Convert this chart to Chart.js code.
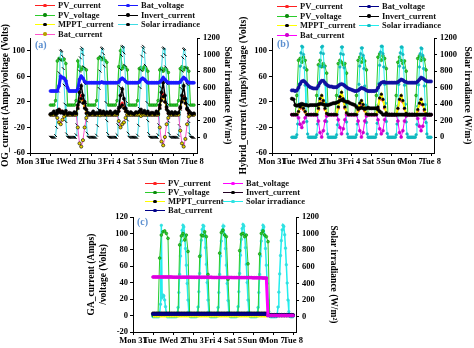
<!DOCTYPE html>
<html><head><meta charset="utf-8">
<script src="https://cdn.jsdelivr.net/npm/chart.js@4.4.1/dist/chart.umd.min.js"></script>
<style>
html,body{margin:0;padding:0;background:#fff;width:474px;height:348px;overflow:hidden;position:relative;}
canvas{position:absolute;}
.lg{position:absolute;font:bold 8.5px "Liberation Serif","Times New Roman",serif;color:#111;white-space:nowrap;line-height:10px;}
.sym{position:absolute;height:0;width:20px;border-top:1px solid;}
.dot{position:absolute;width:3.5px;height:3.5px;border-radius:50%;}
.plab{position:absolute;font:bold 10px "Liberation Serif","Times New Roman",serif;color:#5b8fd0;line-height:12px;}
</style></head><body>
<canvas id="ca" width="237" height="175" style="left:0;top:0"></canvas>
<canvas id="cb" width="237" height="175" style="left:237px;top:0"></canvas>
<canvas id="cc" width="265" height="173" style="left:80px;top:175px"></canvas>
<div class="plab" style="left:35px;top:39px">(a)</div>
<div class="plab" style="left:277px;top:38px">(b)</div>
<div class="plab" style="left:137px;top:216px">(c)</div>
<script>
// ---------- axes / categories ----------
const DAY_LABELS = ["Mon 31","Tue 1","Wed 2","Thu 3","Fri 4","Sat 5","Sun 6","Mon 7","Tue 8"];
const LEFT_TICKS_AB = [-60,-40,-20,0,20,40,60,80,100,120];
const LEFT_TICKS_C = [-20,0,20,40,60,80,100,120];
const RIGHT_TICKS = [0,200,400,600,800,1000,1200];
const START_DAY = 1;            // first sample: Tue 1, 00:00
const STEP_2H = 2/24, STEP_1H = 1/24;

// ---------- (a) OG : 2-hour samples (h0,h2,...,h22 per day), Tue 1 .. Tue 8 ----------
const A_PV_CURRENT = [
0,0,0,0,3,8,6,4,2,0,0,0,
0,0,0,0,12,25,30,22,12,3,0,0,
0,0,0,0,1,2,1,1,0,0,0,0,
0,0,0,0,6,15,18,12,6,0,0,0,
0,0,0,0,1,3,2,1,0,0,0,0,
0,0,0,0,12,25,32,20,10,2,0,0,
0,0,0,0,10,22,28,18,8,2,0,0,
0];
const A_PV_VOLTAGE = [
15,15,15,22,84,88,86,85,87,80,15,15,
15,15,15,22,84,75,70,74,72,70,15,15,
15,15,15,22,88,90,86,89,85,82,15,15,
15,15,15,22,75,100,72,76,74,70,15,15,
15,15,15,22,72,74,70,75,72,68,15,15,
15,15,15,22,70,73,68,72,70,66,15,15,
15,15,15,22,72,75,70,74,73,68,15,15,
15];
const A_MPPT_CURRENT = [
0,0,0,0,2,5,4,3,1,0,0,0,
0,0,0,0,10,20,25,18,10,2,0,0,
0,0,0,0,0,1,0,0,0,0,0,0,
0,0,0,0,5,12,15,10,5,0,0,0,
0,0,0,0,0,1,0,0,0,0,0,0,
0,0,0,0,10,22,28,20,8,2,0,0,
0,0,0,0,10,20,25,18,8,2,0,0,
0];
const A_BAT_CURRENT = [
0,0,0,0,-5,-12,-15,-8,-3,0,0,0,
0,0,0,0,-20,-45,-50,-40,-20,-5,0,0,
0,0,0,0,0,-1,0,0,0,0,0,0,
0,0,0,0,-10,-20,-15,-12,-5,0,0,0,
0,0,0,0,0,-2,0,0,0,0,0,0,
0,0,0,0,-20,-42,-48,-35,-15,-5,0,0,
0,0,0,0,-25,-45,-50,-38,-15,-3,0,0,
0];
const A_BAT_VOLTAGE = [
37,37,37,37,37,45,60,58,57,53,42,37,
37,37,37,37,40,55,60,57,52,50,50,50,
50,50,50,50,50,50,51,50,50,50,50,50,
50,50,50,50,51,55,57,55,52,50,50,50,
50,50,50,50,51,55,57,55,52,50,50,50,
50,50,50,50,51,54,58,55,52,50,50,50,
50,50,50,50,51,55,58,56,52,50,50,50,
50];
const A_INVERT_CURRENT = [
1,2,5,1,6,8,3,5,2,6,1,3,
2,1,4,2,15,35,45,30,20,8,3,1,
2,5,1,3,2,6,2,5,1,4,2,5,
1,3,5,2,10,30,40,25,10,5,2,4,
2,1,4,3,5,8,3,6,2,5,1,3,
3,1,5,2,15,35,50,30,12,5,2,4,
1,4,2,3,12,30,45,25,10,6,3,1,
2];
// hourly solar irradiance (W/m2)
const A_SOLAR = [
0,0,0,0,0,0,20,120,320,560,780,940,1040,1050,980,830,630,400,190,40,0,0,0,0,
0,0,0,0,0,0,30,150,350,600,800,960,1060,1080,1000,850,650,420,200,50,0,0,0,0,
0,0,0,0,0,0,25,140,340,590,800,970,1070,1080,1010,860,660,420,200,45,0,0,0,0,
0,0,0,0,0,0,30,150,360,610,820,990,1090,1100,1020,870,670,430,210,50,0,0,0,0,
0,0,0,0,0,0,25,145,350,600,810,980,1080,1100,1030,870,660,420,200,45,0,0,0,0,
0,0,0,0,0,0,30,150,355,605,815,975,1070,1080,1000,850,650,410,195,45,0,0,0,0,
0,0,0,0,0,0,25,140,340,590,800,960,1060,1070,990,840,640,400,190,40,0,0,0,0,
0];

// ---------- (b) Hybrid ----------
const B_PV_CURRENT = [
0,0,0,0,4,10,12,8,4,0,0,0,
0,0,0,0,8,22,28,20,8,1,0,0,
0,0,0,0,10,25,30,22,10,2,0,0,
0,0,0,0,6,15,20,14,6,1,0,0,
0,0,0,0,10,24,30,22,10,2,0,0,
0,0,0,0,9,22,28,20,9,1,0,0,
0,0,0,0,6,16,22,15,6,1,0,0,
0];
const B_PV_VOLTAGE = [
0,0,0,30,85,88,82,90,85,70,0,0,
0,0,0,30,78,85,75,80,76,65,0,0,
0,0,0,30,80,85,82,78,80,65,0,0,
0,0,0,30,85,90,82,88,84,70,0,0,
0,0,0,30,90,95,85,92,88,72,0,0,
0,0,0,30,82,90,85,80,84,68,0,0,
0,0,0,30,88,92,85,90,86,70,0,0,
0];
const B_MPPT_CURRENT = [
0,0,0,0,5,12,15,10,5,0,0,0,
0,0,0,0,10,25,30,22,10,2,0,0,
0,0,0,0,12,28,35,25,12,3,0,0,
0,0,0,0,8,18,22,16,8,1,0,0,
0,0,0,0,12,26,32,24,12,3,0,0,
0,0,0,0,10,24,30,22,10,2,0,0,
0,0,0,0,8,18,24,16,8,1,0,0,
0];
const B_BAT_CURRENT = [
0,0,0,0,-5,-15,-20,-12,-5,0,0,0,
0,0,0,0,-10,-28,-35,-25,-10,-2,0,0,
0,0,0,0,-8,-20,-30,-22,-8,0,0,0,
0,0,0,0,-10,-25,-35,-28,-10,-2,0,0,
0,0,0,0,-8,-22,-30,-25,-8,0,0,0,
0,0,0,0,-10,-28,-35,-25,-10,-2,0,0,
0,0,0,0,-6,-18,-25,-18,-6,0,0,0,
0];
const B_BAT_VOLTAGE = [
38,38,37,38,42,48,52,53,51,48,45,43,
42,41,41,41,45,50,53,53,50,47,45,44,
44,43,43,43,45,47,48,47,45,43,41,40,
39,38,37,37,38,40,42,41,40,38,37,37,
37,37,37,38,42,47,50,51,51,50,50,50,
50,50,50,50,51,53,55,54,52,51,50,50,
50,50,50,50,52,55,58,57,55,53,52,52,
52];
const B_INVERT_CURRENT = [
25,24,15,14,15,16,17,16,15,15,14,15,
15,15,15,15,16,17,17,16,15,15,15,16,
17,18,18,19,20,22,23,22,21,20,20,18,
17,16,15,12,10,10,11,10,10,10,11,10,
10,10,10,10,8,5,3,0,0,0,0,0,
0,0,0,0,0,0,0,0,0,0,0,0,
0,0,0,0,0,0,0,0,0,0,0,0,
0];
const B_SOLAR = [
0,0,0,0,0,0,30,160,380,640,860,1020,1100,1090,1000,840,630,400,190,40,0,0,0,0,
0,0,0,0,0,0,30,160,380,640,860,1020,1090,1100,1010,850,640,410,190,40,0,0,0,0,
0,0,0,0,0,0,30,150,370,630,850,1010,1090,1090,1000,840,630,400,185,40,0,0,0,0,
0,0,0,0,0,0,30,160,380,640,860,1010,1080,1080,990,830,620,390,180,40,0,0,0,0,
0,0,0,0,0,0,35,170,390,650,870,1030,1100,1100,1010,850,640,410,190,45,0,0,0,0,
0,0,0,0,0,0,30,160,380,640,860,1020,1090,1090,1000,840,630,400,185,40,0,0,0,0,
0,0,0,0,0,0,30,155,375,635,850,1010,1080,1070,990,830,620,395,180,40,0,0,0,0,
0];

// ---------- (c) GA ----------
const C_PV_CURRENT = [
0,0,0,0,0,0,0,0,0,0,0,0,
0,0,0,0,0,0,0,0,0,0,0,0,
0,0,0,0,0,0,0,0,0,0,0,0,
0,0,0,0,0,0,0,0,0,0,0,0,
0,0,0,0,0,0,0,0,0,0,0,0,
0,0,0,0,0,0,0,0,0,0,0,0,
0,0,0,0,0,0,0,0,0,0,0,0,
0];
const C_PV_VOLTAGE = [
0,0,0,0,70,98,102,103,100,94,0,0,
0,0,0,0,86,97,100,92,98,78,0,0,
0,0,0,0,72,98,97,102,96,50,0,0,
0,0,0,0,76,101,104,98,96,44,0,0,
0,0,0,0,79,99,100,96,98,63,0,0,
0,0,0,0,75,100,103,98,96,90,0,0,
0,0,0,0,0,0,0,0,0,0,0,0,
0];
const C_MPPT_CURRENT = [
-1.2,-1.2,-1.2,-1.2,-1.2,-1.2,-1.2,-1.2,-1.2,-1.2,-1.2,-1.2,
-1.2,-1.2,-1.2,-1.2,-1.2,-1.2,-1.2,-1.2,-1.2,-1.2,-1.2,-1.2,
-1.2,-1.2,-1.2,-1.2,-1.2,-1.2,-1.2,-1.2,-1.2,-1.2,-1.2,-1.2,
-1.2,-1.2,-1.2,-1.2,-1.2,-1.2,-1.2,-1.2,-1.2,-1.2,-1.2,-1.2,
-1.2,-1.2,-1.2,-1.2,-1.2,-1.2,-1.2,-1.2,-1.2,-1.2,-1.2,-1.2,
-1.2,-1.2,-1.2,-1.2,-1.2,-1.2,-1.2,-1.2,-1.2,0,0,0,
0,0,0,0,0,0,0,0,0,0,0,0,
0];
const C_BAT_CURRENT = [
1.8,1.8,1.8,1.8,1.8,1.8,1.8,1.8,1.8,1.8,1.8,1.8,
1.8,1.8,1.8,1.8,1.8,1.8,1.8,1.8,1.8,1.8,1.8,1.8,
1.8,1.8,1.8,1.8,1.8,1.8,1.8,1.8,1.8,1.8,1.8,1.8,
1.8,1.8,1.8,1.8,1.8,1.8,1.8,1.8,1.8,1.8,1.8,1.8,
1.8,1.8,1.8,1.8,1.8,1.8,1.8,1.8,1.8,1.8,1.8,1.8,
1.8,1.8,1.8,1.8,1.8,1.8,1.8,1.8,1.8,0.4,0.4,0.4,
0.4,0.4,0.4,0.4,0.4,0.4,0.4,0.4,0.4,0.4,0.4,0.4,
0.4];
const C_BAT_VOLTAGE = [
47,47,47,47,47,47,47,47,47,47,47,47,
46.8,46.8,46.8,46.8,46.8,46.8,46.8,46.8,46.8,46.8,46.8,46.8,
46.6,46.6,46.6,46.6,46.6,46.6,46.6,46.6,46.6,46.6,46.6,46.6,
46.4,46.4,46.4,46.4,46.4,46.4,46.4,46.4,46.4,46.4,46.4,46.4,
46.2,46.2,46.2,46.2,46.2,46.2,46.2,46.2,46.2,46.2,46.2,46.2,
46,46,46,46,46,46,45.8,45.8,45.6,0,0,0,
0,0,0,0,0,0,0,0,0,0,0,0,
0];
const C_INVERT_CURRENT = [
2.6,2.6,2.6,2.6,2.6,2.6,2.6,2.6,2.6,2.6,2.6,2.6,
2.6,2.6,2.6,2.6,2.6,2.6,2.6,2.6,2.6,2.6,2.6,2.6,
2.6,2.6,2.6,2.6,2.6,2.6,2.6,2.6,2.6,2.6,2.6,2.6,
2.6,2.6,2.6,2.6,2.6,2.6,2.6,2.6,2.6,2.6,2.6,2.6,
2.6,2.6,2.6,2.6,2.6,2.6,2.6,2.6,2.6,2.6,2.6,2.6,
2.6,2.6,2.6,2.6,2.6,2.6,2.6,2.6,2.6,0.8,0.8,0.8,
0.8,0.8,0.8,0.8,0.8,0.8,0.8,0.8,0.8,0.8,0.8,0.8,
0.8];
const C_SOLAR = [
0,0,0,0,0,0,0,0,40,150,1100,230,260,250,200,120,40,0,0,0,0,0,0,0,
0,0,0,0,0,20,110,290,510,730,910,1040,1100,1080,980,820,620,400,200,60,10,0,0,0,
0,0,0,0,0,20,115,300,520,740,920,1050,1100,1090,990,830,630,410,200,60,10,0,0,0,
0,0,0,0,0,20,110,290,510,730,910,1040,1090,1090,990,820,620,400,195,55,10,0,0,0,
0,0,0,0,0,25,120,300,520,740,930,1060,1110,1090,990,830,630,410,200,60,10,0,0,0,
0,0,0,0,0,20,110,290,510,730,910,1040,1100,1080,980,820,620,400,200,60,10,0,0,0,
0,0,0,0,0,20,115,295,515,735,915,1045,1100,1085,985,825,625,405,200,60,10,0,0,0,
0];

// ---------- helpers ----------
Chart.defaults.font.family = '"Liberation Serif","Times New Roman",serif';
Chart.defaults.font.weight = 'bold';
Chart.defaults.color = '#000';

function series(label, values, step, axis, st) {
  return {
    label: label,
    data: values.map((v, i) => ({x: START_DAY + i * step, y: v})),
    yAxisID: axis,
    borderColor: st.line, borderWidth: st.lw || 1,
    pointRadius: st.r === undefined ? 1.2 : st.r,
    pointStyle: st.ps || 'circle', rotation: st.rot || 0,
    pointBackgroundColor: st.fill || st.line,
    pointBorderColor: st.pb || st.fill || st.line,
    pointBorderWidth: st.pbw === undefined ? 0.6 : st.pbw,
    order: st.order || 0, fill: false, tension: 0
  };
}

function makeChart(id, datasets, o) {
  return new Chart(document.getElementById(id), {
    type: 'line',
    data: {datasets: datasets},
    options: {
      responsive: false, animation: false, events: [],
      layout: {padding: {top: o.padTop, left: 0, right: 0, bottom: 0}},
      plugins: {legend: {display: false}, tooltip: {enabled: false}},
      scales: {
        x: {
          type: 'linear', min: 0, max: 8.15,
          afterBuildTicks: s => { s.ticks = DAY_LABELS.map((_, i) => ({value: i})); },
          afterFit: s => { s.height = o.xH; },
          ticks: {autoSkip: false, maxRotation: 0, minRotation: 0, padding: 1,
                  font: {size: 8.5, weight: 'bold'}, color: '#000',
                  callback: (v) => DAY_LABELS[v]},
          grid: {display: true, drawOnChartArea: false, tickLength: 3, color: '#000'},
          border: {display: true, color: '#000', width: 1}
        },
        y: {
          position: 'left', min: o.leftTicks[0], max: o.leftTicks[o.leftTicks.length - 1],
          afterBuildTicks: s => { s.ticks = o.leftTicks.map(v => ({value: v})); },
          afterFit: s => { s.width = o.yW; },
          ticks: {padding: 2, font: {size: 8.5, weight: 'bold'}, color: '#000', callback: v => String(v)},
          grid: {display: true, drawOnChartArea: false, tickLength: 3, color: '#000'},
          border: {display: true, color: '#000', width: 1},
          title: {display: true, text: o.leftTitle, font: {size: 9.5, weight: 'bold'},
                  color: '#000', padding: {top: o.ltPad, bottom: 0}}
        },
        y2: {
          position: 'right', min: o.rMin, max: 1200,
          afterBuildTicks: s => { s.ticks = RIGHT_TICKS.map(v => ({value: v})); },
          afterFit: s => { s.width = o.y2W; },
          ticks: {padding: 3, font: {size: 8.5, weight: 'bold'}, color: '#000', callback: v => String(v)},
          grid: {display: true, drawOnChartArea: false, tickLength: 3, color: '#000'},
          border: {display: true, color: '#000', width: 1},
          title: {display: true, text: 'Solar irradiance (W/m²)', font: {size: 9.5, weight: 'bold'},
                  color: '#000', padding: {top: o.rtPad, bottom: 0}}
        }
      }
    }
  });
}

function legend(items, cols, rows) {
  items.forEach(it => {
    const x = cols[it.c], y = rows[it.r];
    const l = document.createElement('div');
    l.className = 'sym'; l.style.left = x + 'px'; l.style.top = y + 'px'; l.style.borderTopColor = it.line;
    document.body.appendChild(l);
    const d = document.createElement('div');
    d.className = 'dot'; d.style.left = (x + 8) + 'px'; d.style.top = (y - 1.3) + 'px'; d.style.background = it.dot;
    document.body.appendChild(d);
    const t = document.createElement('div');
    t.className = 'lg'; t.textContent = it.label; t.style.left = (x + 23) + 'px'; t.style.top = (y - 5) + 'px';
    document.body.appendChild(t);
  });
}

// ---------- styles ----------
const RED = '#ff2020', GREEN = '#2ccc2c', DKGREEN = '#0a8a0a', YELLOW = '#ffff00',
      PINK = '#ff55cc', MAGENTA = '#ff00ff', BLUE = '#1a1aff', NAVY = '#000088',
      CYAN = '#3fdbe3', CYAN2 = '#22eeee', BLACK = '#000';

// ---------- (a) ----------
makeChart('ca', [
  series('Bat_voltage', A_BAT_VOLTAGE, STEP_2H, 'y', {line: BLUE, lw: 3, r: 1.5, fill: BLUE, order: 0}),
  series('Invert_current', A_INVERT_CURRENT, STEP_2H, 'y', {line: BLACK, lw: 1.5, r: 1.6, fill: BLACK, order: 1}),
  series('Bat_current', A_BAT_CURRENT, STEP_2H, 'y', {line: PINK, r: 1.6, fill: '#e8d400', pb: '#000', order: 2}),
  series('MPPT_current', A_MPPT_CURRENT, STEP_2H, 'y', {line: YELLOW, r: 1.4, fill: BLACK, order: 3}),
  series('PV_current', A_PV_CURRENT, STEP_2H, 'y', {line: RED, r: 1.3, fill: RED, order: 4}),
  series('Solar irradiance', A_SOLAR, STEP_1H, 'y2', {line: CYAN, lw: 1, r: 2, ps: 'line', rot: 45, fill: BLACK, pb: BLACK, pbw: 1, order: 5}),
  series('PV_voltage', A_PV_VOLTAGE, STEP_2H, 'y', {line: GREEN, lw: 1.2, r: 1.4, fill: GREEN, pb: DKGREEN, order: 6})
], {padTop: 38, xH: 22, yW: 30, y2W: 40, rMin: -190, leftTicks: LEFT_TICKS_AB,
    leftTitle: 'OG_current (Amps)/voltage (Volts)', ltPad: 0, rtPad: 4});

legend([
  {label: 'PV_current', line: RED, dot: RED, c: 0, r: 0},
  {label: 'PV_voltage', line: GREEN, dot: DKGREEN, c: 0, r: 1},
  {label: 'MPPT_current', line: YELLOW, dot: BLACK, c: 0, r: 2},
  {label: 'Bat_current', line: PINK, dot: '#b8a000', c: 0, r: 3},
  {label: 'Bat_voltage', line: BLUE, dot: BLUE, c: 1, r: 0},
  {label: 'Invert_current', line: BLACK, dot: BLACK, c: 1, r: 1},
  {label: 'Solar irradiance', line: CYAN, dot: BLACK, c: 1, r: 2}
], [35, 118], [5, 14.5, 24, 33.5]);

// ---------- (b) ----------
makeChart('cb', [
  series('Bat_voltage', B_BAT_VOLTAGE, STEP_2H, 'y', {line: NAVY, lw: 2.5, r: 1.6, fill: '#1010a0', order: 0}),
  series('Invert_current', B_INVERT_CURRENT, STEP_2H, 'y', {line: BLACK, lw: 1.5, r: 1.6, fill: BLACK, order: 1}),
  series('MPPT_current', B_MPPT_CURRENT, STEP_2H, 'y', {line: YELLOW, lw: 2, r: 1.3, fill: BLACK, order: 2}),
  series('Bat_current', B_BAT_CURRENT, STEP_2H, 'y', {line: MAGENTA, r: 1.5, fill: '#cc00cc', order: 3}),
  series('PV_current', B_PV_CURRENT, STEP_2H, 'y', {line: RED, r: 1.3, fill: RED, order: 4}),
  series('Solar irradiance', B_SOLAR, STEP_1H, 'y2', {line: CYAN2, lw: 1, r: 1.3, fill: '#10b8c0', order: 5}),
  series('PV_voltage', B_PV_VOLTAGE, STEP_2H, 'y', {line: GREEN, lw: 1, r: 1.4, fill: GREEN, pb: DKGREEN, order: 6})
], {padTop: 38, xH: 22, yW: 35, y2W: 40, rMin: -190, leftTicks: LEFT_TICKS_AB,
    leftTitle: 'Hybrid_current (Amps)/voltage (Volts)', ltPad: 1, rtPad: 1});

legend([
  {label: 'PV_current', line: RED, dot: RED, c: 0, r: 0},
  {label: 'PV_voltage', line: GREEN, dot: DKGREEN, c: 0, r: 1},
  {label: 'MPPT_current', line: YELLOW, dot: BLACK, c: 0, r: 2},
  {label: 'Bat_current', line: MAGENTA, dot: '#cc00cc', c: 0, r: 3},
  {label: 'Bat_voltage', line: NAVY, dot: NAVY, c: 1, r: 0},
  {label: 'Invert_current', line: BLACK, dot: BLACK, c: 1, r: 1},
  {label: 'Solar irradiance', line: CYAN2, dot: '#10b8c0', c: 1, r: 2}
], [277, 359], [6, 15.5, 25, 34.5]);

// ---------- (c) ----------
makeChart('cc', [
  series('Bat_voltage', C_BAT_VOLTAGE, STEP_2H, 'y', {line: MAGENTA, lw: 3, r: 1.5, fill: '#dd00dd', order: 0}),
  series('Bat_current', C_BAT_CURRENT, STEP_2H, 'y', {line: NAVY, lw: 2, r: 1.6, fill: NAVY, order: 1}),
  series('Invert_current', C_INVERT_CURRENT, STEP_2H, 'y', {line: '#220022', lw: 2, r: 1.6, fill: BLACK, order: 2}),
  series('MPPT_current', C_MPPT_CURRENT, STEP_2H, 'y', {line: YELLOW, lw: 2, r: 0, order: 3}),
  series('PV_current', C_PV_CURRENT, STEP_2H, 'y', {line: RED, r: 0, order: 4}),
  series('PV_voltage', C_PV_VOLTAGE, STEP_2H, 'y', {line: GREEN, lw: 1, r: 1.4, fill: GREEN, pb: DKGREEN, order: 5}),
  series('Solar irradiance', C_SOLAR, STEP_1H, 'y2', {line: CYAN2, lw: 1.5, r: 1.3, fill: '#30e0e0', order: 6})
], {padTop: 42, xH: 16, yW: 53, y2W: 49, rMin: -185, leftTicks: LEFT_TICKS_C,
    leftTitle: ['GA_current (Amps)', '/voltage (Volts)'], ltPad: 6, rtPad: 6});

legend([
  {label: 'PV_current', line: RED, dot: RED, c: 0, r: 0},
  {label: 'PV_voltage', line: GREEN, dot: DKGREEN, c: 0, r: 1},
  {label: 'MPPT_current', line: YELLOW, dot: BLACK, c: 0, r: 2},
  {label: 'Bat_current', line: NAVY, dot: NAVY, c: 0, r: 3},
  {label: 'Bat_voltage', line: MAGENTA, dot: MAGENTA, c: 1, r: 0},
  {label: 'Invert_current', line: '#220022', dot: BLACK, c: 1, r: 1},
  {label: 'Solar irradiance', line: CYAN2, dot: '#30e0e0', c: 1, r: 2}
], [145, 223], [183, 192, 201, 210]);
</script>
</body></html>
